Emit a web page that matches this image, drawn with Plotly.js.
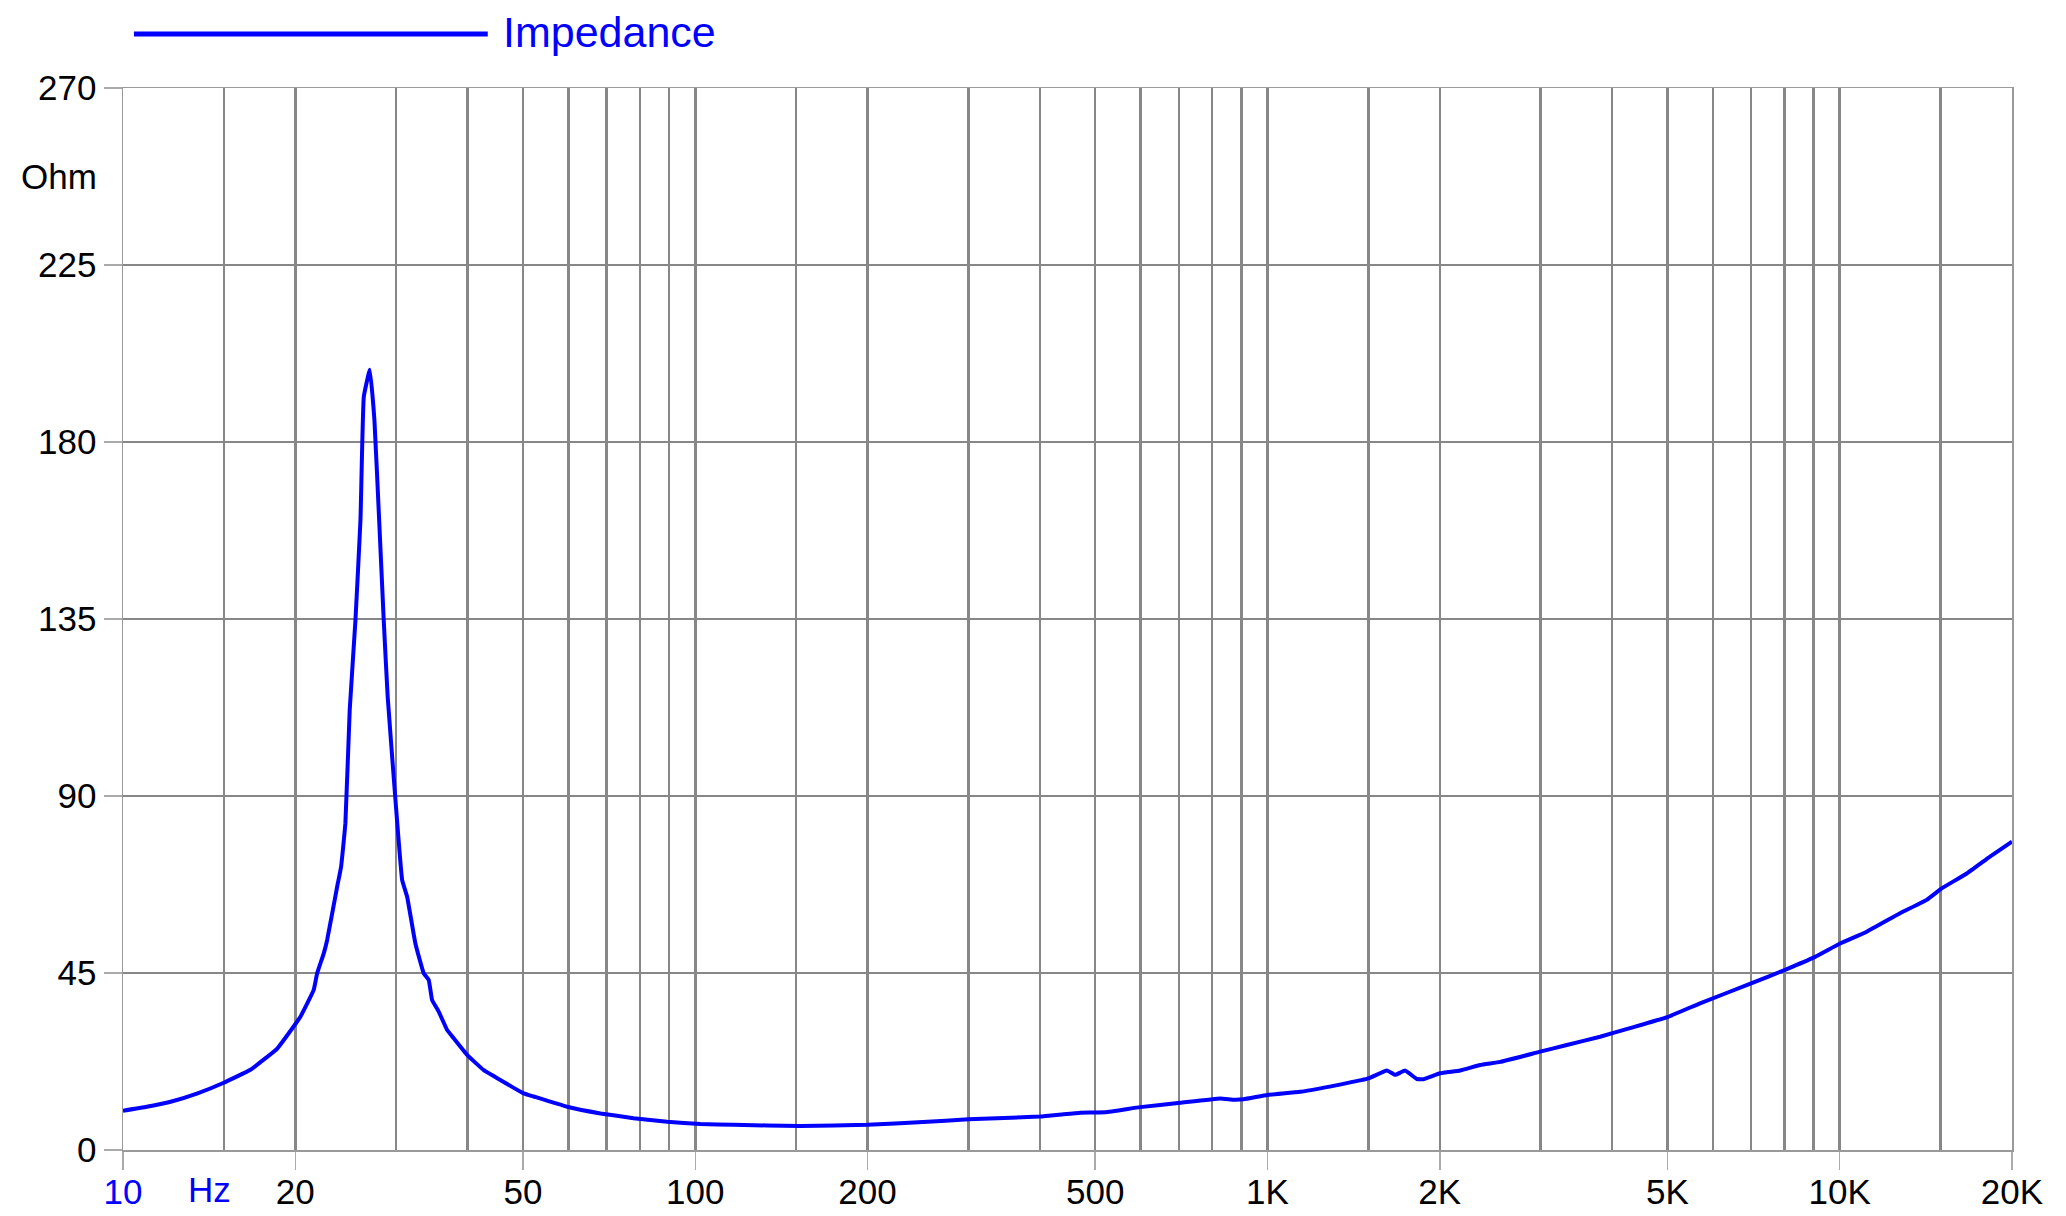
<!DOCTYPE html>
<html>
<head>
<meta charset="utf-8">
<script src="https://cdn.plot.ly/plotly-3.0.1.min.js"></script>
<style>html,body{margin:0;padding:0;background:#fff;}</style>
</head>
<body>
<div id="chart" style="width:2066px;height:1216px;"></div>
<script>
// Frequency (Hz) and impedance (Ohm)
const freqHz = [10, 11, 12.2, 13.5, 15, 16.7, 18.6, 20.42, 21.54, 21.84, 22.43, 22.74, 23.67, 24.05, 24.47, 24.9, 25.48, 26.0, 26.35, 27.0, 27.5, 28.03, 28.55, 29.01, 29.93, 30.75, 31.37, 32.43, 33.54, 34.22, 34.69, 35.62, 36.85, 37.84, 39.93, 42.7, 45.65, 50.13, 52.2, 59.7, 68.3, 78.0, 89.3, 102.1, 116.7, 152.6, 200, 250, 300, 400, 440, 471, 520, 599, 704, 827, 872, 908, 1000, 1141, 1376, 1501, 1617, 1671, 1740, 1824, 1873, 2003, 2171, 2353, 2550, 2995, 3335, 3813, 4300, 5000, 5700, 7018, 8025, 9054, 10012, 11147, 12744, 14191, 15071, 16671, 18304, 20000];
const impedanceOhm = [10.0, 11.0, 12.4, 14.4, 17.1, 20.4, 25.8, 33.9, 40.7, 44.9, 50.0, 53.4, 66.9, 72.0, 83.1, 111.9, 134.7, 160.2, 191.5, 198.4, 185.6, 160.2, 134.7, 115.2, 89.0, 68.6, 64.4, 52.5, 44.9, 43.2, 38.1, 35.2, 30.5, 28.4, 24.2, 20.3, 17.8, 14.4, 13.6, 11.0, 9.3, 8.1, 7.2, 6.6, 6.4, 6.1, 6.4, 7.1, 7.8, 8.5, 9.1, 9.5, 9.6, 10.9, 12.0, 13.1, 12.8, 12.9, 14.0, 14.8, 17.0, 18.2, 20.2, 19.1, 20.2, 18.05, 18.0, 19.5, 20.2, 21.6, 22.4, 25.0, 26.7, 28.8, 31.0, 33.8, 37.3, 42.4, 45.8, 49.1, 52.5, 55.5, 60.2, 63.6, 66.5, 70.3, 74.6, 78.4];

// Axis ticks
const xTickVals = [10, 20, 50, 100, 200, 500, 1000, 2000, 5000, 10000, 20000];
const xTickText = ['<span style="color:#0000ff">10</span>', '20', '50', '100', '200', '500', '1K', '2K', '5K', '10K', '20K'];
const xMinorGrid = [15, 30, 40, 60, 70, 80, 90, 150, 300, 400, 600, 700, 800, 900, 1500, 3000, 4000, 6000, 7000, 8000, 9000, 15000];
const yTickVals = [0, 45, 90, 135, 180, 225, 270];

const seriesName = 'Impedance';
const xUnit = 'Hz';
const yUnit = 'Ohm';

const gridColor = '#878787';
const font = 'Liberation Sans, Arial, Helvetica, sans-serif';

const trace = {
  x: freqHz,
  y: impedanceOhm,
  type: 'scatter',
  mode: 'lines',
  line: {color: '#0000ff', width: 4, shape: 'spline', smoothing: 0.3},
  showlegend: false,
  hoverinfo: 'x+y'
};

const layout = {
  width: 2066,
  height: 1216,
  margin: {l: 123, r: 54, t: 88, b: 66, pad: 0},
  paper_bgcolor: '#ffffff',
  plot_bgcolor: '#ffffff',
  font: {family: font, size: 34, color: '#000000'},
  showlegend: false,
  xaxis: {
    type: 'log',
    range: [1, Math.log10(20000)],
    tickmode: 'array',
    tickvals: xTickVals,
    ticktext: xTickText,
    ticks: 'outside',
    ticklen: 18,
    tickwidth: 1.5,
    tickcolor: '#aaaaaa',
    ticklabelstandoff: -8,
    showgrid: true,
    gridcolor: gridColor,
    gridwidth: 2.5,
    minor: {
      tickmode: 'array',
      tickvals: xMinorGrid,
      showgrid: true,
      gridcolor: gridColor,
      gridwidth: 2.5,
      ticks: ''
    },
    showline: true,
    mirror: true,
    linecolor: '#999999',
    linewidth: 1.5,
    zeroline: false,
    tickfont: {family: font, size: 35, color: '#000000'}
  },
  yaxis: {
    range: [0, 270],
    tickmode: 'array',
    tickvals: yTickVals,
    ticks: 'outside',
    ticklen: 18,
    tickwidth: 1.5,
    tickcolor: '#aaaaaa',
    showgrid: true,
    gridcolor: gridColor,
    gridwidth: 2.5,
    showline: true,
    mirror: true,
    linecolor: '#999999',
    linewidth: 1.5,
    zeroline: false,
    tickfont: {family: font, size: 35, color: '#000000'}
  },
  shapes: [
    {type: 'line', xref: 'paper', yref: 'paper', x0: 0.0058, x1: 0.1931, y0: 1.0508, y1: 1.0508,
     line: {color: '#0000ff', width: 5}}
  ],
  annotations: [
    {text: seriesName, xref: 'paper', yref: 'paper', x: 0.2000, y: 1.053, xanchor: 'left', yanchor: 'middle',
     showarrow: false, font: {family: font, size: 43, color: '#0000ff'}},
    {text: xUnit, xref: 'paper', yref: 'paper', x: 0.046, y: -0.037, xanchor: 'center', yanchor: 'middle',
     showarrow: false, font: {family: font, size: 35, color: '#0000ff'}},
    {text: yUnit, xref: 'paper', yref: 'y', x: 0, y: 247.5, xanchor: 'right', yanchor: 'middle', xshift: -24,
     showarrow: false, font: {family: font, size: 35, color: '#000000'}}
  ]
};

Plotly.newPlot('chart', [trace], layout, {displayModeBar: false, staticPlot: true});
</script>
</body>
</html>
